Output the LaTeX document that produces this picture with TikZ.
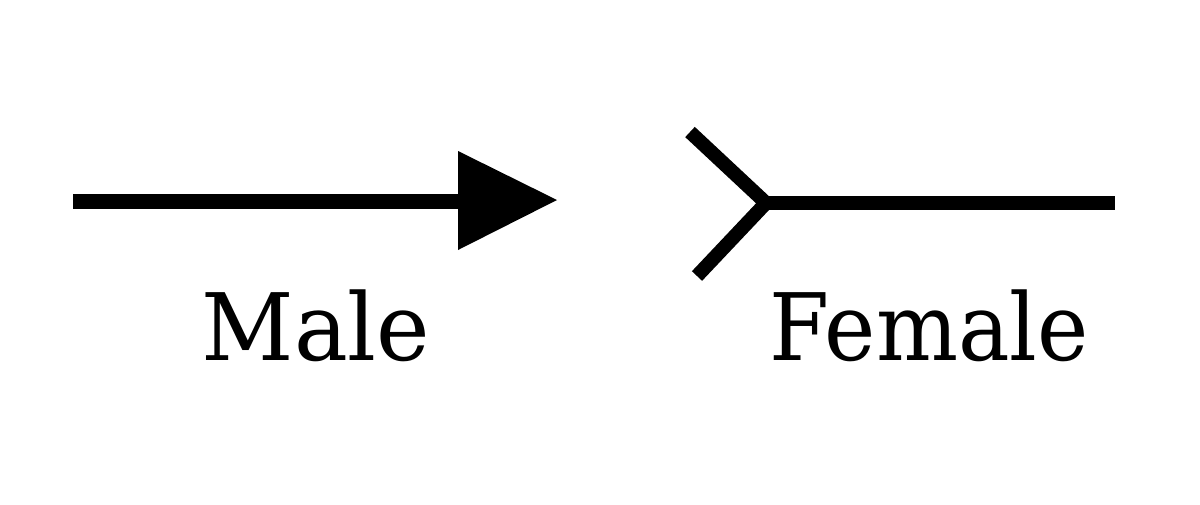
\documentclass[tikz,border=0pt]{standalone}
\usepackage{fontspec}
\setmainfont{DejaVu Serif}
\begin{document}
\begin{tikzpicture}[x=0.02cm,y=-0.02cm,
  stroke/.style={line width=0.3cm},
  lbl/.style={font=\fontsize{53}{60}\selectfont, anchor=base, inner sep=0pt}]
\useasboundingbox (0,0) rectangle (1200,504);
% Male
\coordinate (ms) at (73,201);
\coordinate (mb) at (460,201);
\coordinate (mt) at (557,200);
\draw[stroke] (ms) -- (mb);
\fill (458,151) -- (mt) -- (458,250) -- cycle;
\node[lbl] (male) at (316,360) {\scalebox{0.97}[1]{Male}};
% Female
\coordinate (fu) at (690,132);
\coordinate (fj) at (766,203);
\coordinate (fl) at (697,276);
\coordinate (fe) at (1115,203);
\draw[line width=0.28cm, miter limit=10] (fu) -- (fj) -- (fl);
\draw[line width=0.28cm] (fj) -- (fe);
\node[lbl] (female) at (929,360) {\scalebox{0.93}[1]{Female}};
\end{tikzpicture}
\end{document}
